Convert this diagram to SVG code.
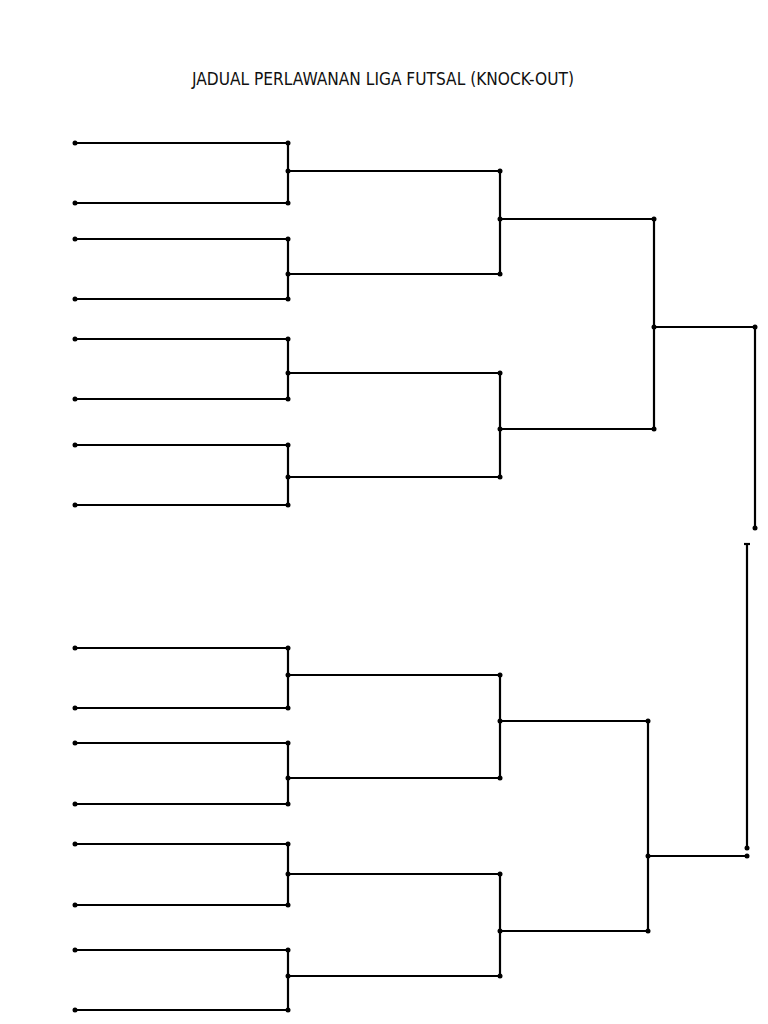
<svg xmlns="http://www.w3.org/2000/svg" width="768" height="1024" viewBox="0 0 768 1024">
<style>
.ln{stroke:#000;stroke-width:2.2;fill:none;stroke-linecap:butt}
.dt{fill:#000}
.title{font-family:"DejaVu Sans Condensed","DejaVu Sans",sans-serif;font-size:17px;fill:#111}
</style>
<rect width="768" height="1024" fill="#fff"/>
<g id="title"><text class="title" x="383" y="85" text-anchor="middle" textLength="382" lengthAdjust="spacingAndGlyphs">JADUAL PERLAWANAN LIGA FUTSAL (KNOCK-OUT)</text></g>
<g id="slots" class="ln">
<g id="slot1"><path d="M74 143H288"/></g>
<g id="slot2"><path d="M74 203H288"/></g>
<g id="slot3"><path d="M74 239H288"/></g>
<g id="slot4"><path d="M74 299H288"/></g>
<g id="slot5"><path d="M74 339H288"/></g>
<g id="slot6"><path d="M74 399H288"/></g>
<g id="slot7"><path d="M74 445H288"/></g>
<g id="slot8"><path d="M74 505H288"/></g>
<g id="slot9"><path d="M74 648H288"/></g>
<g id="slot10"><path d="M74 708H288"/></g>
<g id="slot11"><path d="M74 743H288"/></g>
<g id="slot12"><path d="M74 804H288"/></g>
<g id="slot13"><path d="M74 844H288"/></g>
<g id="slot14"><path d="M74 905H288"/></g>
<g id="slot15"><path d="M74 950H288"/></g>
<g id="slot16"><path d="M74 1010H288"/></g>
</g>
<g id="connectors" class="ln">
<path d="M288 143V203M288 171H500"/>
<path d="M288 239V299M288 274H500"/>
<path d="M288 339V399M288 373H500"/>
<path d="M288 445V505M288 477H500"/>
<path d="M500 171V274M500 219H654"/>
<path d="M500 373V477M500 429H654"/>
<path d="M654 219V429M654 327H755"/>
<path d="M755 327V528"/>
<path d="M288 648V708M288 675H500"/>
<path d="M288 743V804M288 778H500"/>
<path d="M288 844V905M288 874H500"/>
<path d="M288 950V1010M288 976H500"/>
<path d="M500 675V778M500 721H648"/>
<path d="M500 874V976M500 931H648"/>
<path d="M648 721V931M648 856H748"/>
<path d="M747 544V848"/>
<path d="M744 544H750"/>
</g>
<g id="dots" class="dt">
<circle cx="75" cy="143" r="2.5"/><circle cx="288" cy="143" r="2.5"/>
<circle cx="75" cy="203" r="2.5"/><circle cx="288" cy="203" r="2.5"/>
<circle cx="75" cy="239" r="2.5"/><circle cx="288" cy="239" r="2.5"/>
<circle cx="75" cy="299" r="2.5"/><circle cx="288" cy="299" r="2.5"/>
<circle cx="75" cy="339" r="2.5"/><circle cx="288" cy="339" r="2.5"/>
<circle cx="75" cy="399" r="2.5"/><circle cx="288" cy="399" r="2.5"/>
<circle cx="75" cy="445" r="2.5"/><circle cx="288" cy="445" r="2.5"/>
<circle cx="75" cy="505" r="2.5"/><circle cx="288" cy="505" r="2.5"/>
<circle cx="288" cy="171" r="2.5"/><circle cx="288" cy="274" r="2.5"/><circle cx="288" cy="373" r="2.5"/><circle cx="288" cy="477" r="2.5"/>
<circle cx="500" cy="171" r="2.5"/><circle cx="500" cy="274" r="2.5"/><circle cx="500" cy="373" r="2.5"/><circle cx="500" cy="477" r="2.5"/>
<circle cx="500" cy="219" r="2.5"/><circle cx="500" cy="429" r="2.5"/>
<circle cx="654" cy="219" r="2.5"/><circle cx="654" cy="429" r="2.5"/><circle cx="654" cy="327" r="2.5"/>
<circle cx="755" cy="327" r="2.5"/><circle cx="755" cy="528" r="2.5"/>
<circle cx="75" cy="648" r="2.5"/><circle cx="288" cy="648" r="2.5"/>
<circle cx="75" cy="708" r="2.5"/><circle cx="288" cy="708" r="2.5"/>
<circle cx="75" cy="743" r="2.5"/><circle cx="288" cy="743" r="2.5"/>
<circle cx="75" cy="804" r="2.5"/><circle cx="288" cy="804" r="2.5"/>
<circle cx="75" cy="844" r="2.5"/><circle cx="288" cy="844" r="2.5"/>
<circle cx="75" cy="905" r="2.5"/><circle cx="288" cy="905" r="2.5"/>
<circle cx="75" cy="950" r="2.5"/><circle cx="288" cy="950" r="2.5"/>
<circle cx="75" cy="1010" r="2.5"/><circle cx="288" cy="1010" r="2.5"/>
<circle cx="288" cy="675" r="2.5"/><circle cx="288" cy="778" r="2.5"/><circle cx="288" cy="874" r="2.5"/><circle cx="288" cy="976" r="2.5"/>
<circle cx="500" cy="675" r="2.5"/><circle cx="500" cy="778" r="2.5"/><circle cx="500" cy="874" r="2.5"/><circle cx="500" cy="976" r="2.5"/>
<circle cx="500" cy="721" r="2.5"/><circle cx="500" cy="931" r="2.5"/>
<circle cx="648" cy="721" r="2.5"/><circle cx="648" cy="931" r="2.5"/><circle cx="648" cy="856" r="2.5"/>
<circle cx="747" cy="856" r="2.5"/><circle cx="747" cy="848" r="2.5"/>
</g>
</svg>
